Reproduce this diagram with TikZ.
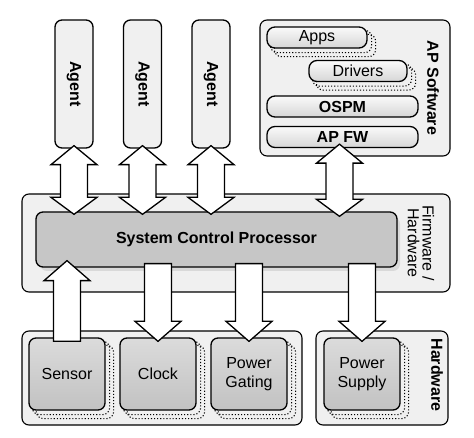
\documentclass[tikz,border=0pt]{standalone}
\usepackage{fontspec}
\setmainfont{Liberation Sans}
\usetikzlibrary{calc}
\pgfdeclarelayer{back}
\pgfdeclarelayer{shadow}
\pgfsetlayers{back,shadow,main}
\newcommand{\figfont}{\fontsize{16}{19}\selectfont}
\tikzset{
	box/.style={draw, line width=1.3pt, rounded corners=7pt, inner sep=0pt},
	frame/.style={box, fill=gray!12, line width=1.1pt},
	agent/.style={box, fill=gray!12, minimum width=38pt, minimum height=128pt, font=\figfont\bfseries},
	layer/.style={box, top color=gray!4, bottom color=gray!32, minimum height=21pt, rounded corners=8pt, font=\figfont},
	block/.style={box, top color=gray!28, bottom color=gray!48, minimum width=76pt, minimum height=72pt, align=center, font=\figfont},
	stackline/.style={dotted, line width=1.1pt, rounded corners=7pt},
	arrowbody/.style={draw, fill=white, line width=1.3pt, line join=miter},
}
\newcommand{\stackshadow}[1]{%
	\begin{pgfonlayer}{shadow}
	\foreach \d in {4,8}
		{\draw[stackline] ($(#1.north west)+(\d,\d)$) rectangle ($(#1.south east)+(\d,\d)$);}
	\end{pgfonlayer}}
\newcommand{\fatarrow}[2]{%
	\draw[arrowbody] let \p1=(#1), \p2=(#2), \n1={ifthenelse(\y2>\y1,1,-1)} in
		({\x2-13.5pt},\y1) -- ({\x2-13.5pt},{\y2-\n1*20pt}) -- ({\x2-23pt},{\y2-\n1*20pt}) -- (\x2,\y2)
		-- ({\x2+23pt},{\y2-\n1*20pt}) -- ({\x2+13.5pt},{\y2-\n1*20pt}) -- ({\x2+13.5pt},\y1) -- cycle;}
\newcommand{\dblarrow}[2]{%
	\draw[arrowbody] let \p1=(#1), \p2=(#2) in
		(\x1,\y1) -- ({\x1+23pt},{\y1-19pt}) -- ({\x1+13.5pt},{\y1-19pt}) -- ({\x1+13.5pt},{\y2+17pt})
		-- ({\x1+23pt},{\y2+17pt}) -- (\x1,\y2) -- ({\x1-23pt},{\y2+17pt}) -- ({\x1-13.5pt},{\y2+17pt})
		-- ({\x1-13.5pt},{\y1-19pt}) -- ({\x1-23pt},{\y1-19pt}) -- cycle;}
\begin{document}
\begin{tikzpicture}[x=1pt, y=-1pt]
	\useasboundingbox (0,0) rectangle (474,438);

	\begin{pgfonlayer}{back}
	\node[frame, minimum width=190pt, minimum height=136pt] (apsw) at (355,88) {};
	\node[frame, minimum width=428pt, minimum height=98pt] (fwhw) at (236,243) {};
	\node[frame, minimum width=280pt, minimum height=94pt] (hwleft) at (162,378) {};
	\node[frame, minimum width=132pt, minimum height=94pt] (hwright) at (382,378) {};
	\fill[gray!30, rounded corners=7pt] (40,217) rectangle (400,271);
	\end{pgfonlayer}

	\node[font=\figfont\bfseries] (aplabel) at (433,88) {\rotatebox{-90}{AP Software}};
	\node[font=\figfont, align=center] (fwlabel) at (421,243) {\rotatebox{-90}{\shortstack{Firmware /\\Hardware}}};
	\node[font=\figfont\bfseries] (hwlabel) at (437,375) {\rotatebox{-90}{Hardware}};

	\foreach \name/\x in {agent1/74, agent2/142.5, agent3/211}
		{\node[agent] (\name) at (\x,84) {\rotatebox{-90}{Agent}};}

	\node[layer, minimum width=100pt] (apps) at (317,37.5) {Apps};
	\node[layer, minimum width=98pt] (drivers) at (358,71) {Drivers};
	\node[layer, minimum width=151pt, font=\figfont\bfseries] (ospm) at (342.5,106.5) {OSPM};
	\node[layer, minimum width=151pt, font=\figfont\bfseries] (apfw) at (342.5,137) {AP FW};
	\stackshadow{apps}
	\stackshadow{drivers}

	\node[box, fill=gray!45, minimum width=361pt, minimum height=55pt, font=\figfont\bfseries] (scp) at (216.5,239.5) {System Control Processor};

	\node[block] (sensor) at (67,374) {Sensor};
	\node[block] (clock) at (158,374) {Clock};
	\node[block] (gating) at (249,374) {Power\\Gating};
	\node[block] (supply) at (362,374) {Power\\Supply};
	\foreach \name in {sensor, clock, gating, supply}
		{\stackshadow{\name}}

	\foreach \name in {agent1, agent2, agent3}
		{\dblarrow{$(\name.south)+(0,-3)$}{$(scp.north -| \name.south)+(0,3)$}}
	\dblarrow{$(apfw.south)+(-3,-4)$}{$(scp.north -| apfw.south)+(-3,5)$}

	\fatarrow{$(sensor.north)+(0,4)$}{$(scp.south -| sensor.north)+(0,-7)$}
	\foreach \name in {clock, gating, supply}
		{\fatarrow{$(scp.south -| \name.north)+(0,-4)$}{$(\name.north)+(0,4)$}}
\end{tikzpicture}
\end{document}
